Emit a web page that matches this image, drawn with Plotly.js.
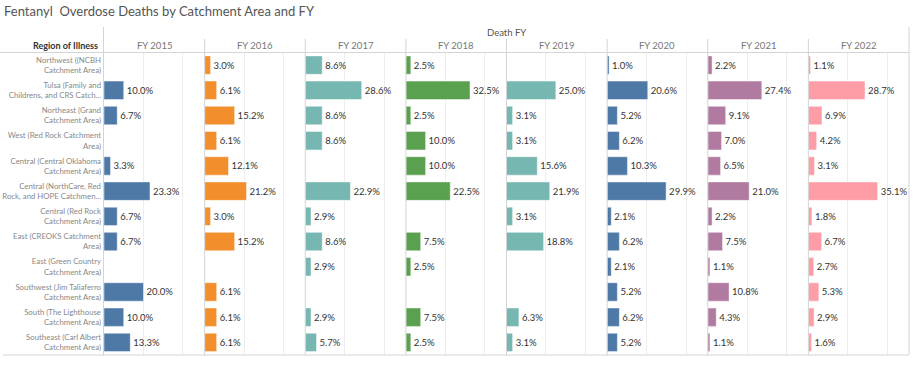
<!DOCTYPE html>
<html>
<head>
<meta charset="utf-8">
<script src="https://cdn.plot.ly/plotly-3.0.1.min.js"></script>
<style>html,body{margin:0;padding:0;background:#fff;}#chart{width:918px;height:375px;}</style>
</head>
<body>
<div id="chart"></div>
<script>
// ---- data ----
const regions = [
  "Northwest ((NCBH<br>Catchment Area)",
  "Tulsa (Family and<br>Childrens, and CRS Catch...",
  "Northeast (Grand<br>Catchment Area)",
  "West (Red Rock Catchment<br>Area)",
  "Central (Central Oklahoma<br>Catchment Area)",
  "Central (NorthCare, Red<br>Rock, and HOPE Catchmen...",
  "Central (Red Rock<br>Catchment Area)",
  "East (CREOKS Catchment<br>Area)",
  "East (Green Country<br>Catchment Area)",
  "Southwest (Jim Taliaferro<br>Catchment Area)",
  "South (The Lighthouse<br>Catchment Area)",
  "Southeast (Carl Albert<br>Catchment Area)"
];
const fiscalYears = ["FY 2015","FY 2016","FY 2017","FY 2018","FY 2019","FY 2020","FY 2021","FY 2022"];
const fy2015 = [null, 10.0, 6.7, null, 3.3, 23.3, 6.7, 6.7, null, 20.0, 10.0, 13.3];
const fy2016 = [3.0, 6.1, 15.2, 6.1, 12.1, 21.2, 3.0, 15.2, null, 6.1, 6.1, 6.1];
const fy2017 = [8.6, 28.6, 8.6, 8.6, null, 22.9, 2.9, 8.6, 2.9, null, 2.9, 5.7];
const fy2018 = [2.5, 32.5, 2.5, 10.0, 10.0, 22.5, null, 7.5, 2.5, null, 7.5, 2.5];
const fy2019 = [null, 25.0, 3.1, 3.1, 15.6, 21.9, 3.1, 18.8, null, null, 6.3, 3.1];
const fy2020 = [1.0, 20.6, 5.2, 6.2, 10.3, 29.9, 2.1, 6.2, 2.1, 5.2, 6.2, 5.2];
const fy2021 = [2.2, 27.4, 9.1, 7.0, 6.5, 21.0, 2.2, 7.5, 1.1, 10.8, 4.3, 1.1];
const fy2022 = [1.1, 28.7, 6.9, 4.2, 3.1, 35.1, 1.8, 6.7, 2.7, 5.3, 2.9, 1.6];
const seriesValues = [fy2015, fy2016, fy2017, fy2018, fy2019, fy2020, fy2021, fy2022];
const colors = ["#4e79a7","#f28e2b","#76b7b2","#59a14f","#76b7b2","#4e79a7","#b07aa1","#ff9da7"];

// ---- layout geometry (pixels) ----
const W = 918, H = 375;
const FONT = "Lato, sans-serif";
const panelLeft = 104, panelRight = 909, plotTop = 52.5, plotBottom = 355;
const panelW = (panelRight - panelLeft) / fiscalYears.length;
const fx = p => p / W;
const fy = p => 1 - p / H;

const traces = [];
const layout = {
  width: W, height: H,
  margin: {l: 0, r: 0, t: 0, b: 0, pad: 0},
  paper_bgcolor: "#fff", plot_bgcolor: "rgba(0,0,0,0)",
  showlegend: false,
  bargap: 0.27,
  font: {family: FONT, size: 9, color: "#444"},
  yaxis: {
    type: "category",
    domain: [fy(plotBottom), fy(plotTop)],
    range: [regions.length - 0.5, -0.5],
    showgrid: false, zeroline: false, showline: false,
    ticks: "", ticklabelstandoff: 2,
    tickfont: {family: FONT, size: 7.8, color: "#888"},
    fixedrange: true
  },
  annotations: [],
  shapes: []
};

fiscalYears.forEach((fyName, i) => {
  const ax = i === 0 ? "x" : "x" + (i + 1);
  const axKey = i === 0 ? "xaxis" : "xaxis" + (i + 1);
  const x0 = panelLeft + i * panelW, x1 = x0 + panelW;
  layout[axKey] = {
    domain: [fx(x0), fx(x1)],
    range: [0, 51],
    anchor: "y",
    showticklabels: false, ticks: "",
    showgrid: true, gridcolor: "#ededed", gridwidth: 1, dtick: 20, tick0: 0,
    zeroline: false, showline: false, fixedrange: true
  };
  const vals = seriesValues[i];
  traces.push({
    type: "bar", orientation: "h",
    x: vals, y: regions,
    xaxis: ax, yaxis: "y",
    marker: {color: colors[i], line: {color: "rgba(255,255,255,0.45)", width: 1}},
    text: vals.map(v => v == null ? "" : v.toFixed(1) + "%"),
    textposition: "outside",
    textfont: {family: FONT, size: 9.5, color: "#333"},
    cliponaxis: false,
    hoverinfo: "x+y"
  });
  layout.annotations.push({
    text: fyName, xref: "paper", yref: "paper",
    x: fx((x0 + x1) / 2), y: fy(45.5), xanchor: "center", yanchor: "middle",
    showarrow: false, font: {family: FONT, size: 9.5, color: "#777"}
  });
  if (i > 0) {
    layout.shapes.push({type: "line", xref: "paper", yref: "paper",
      x0: fx(x0), x1: fx(x0), y0: fy(39), y1: fy(plotBottom),
      line: {color: "#d4d4d4", width: 1}});
  }
});

// outer borders / header lines
layout.shapes.push(
  {type: "line", xref: "paper", yref: "paper", x0: fx(103.5), x1: fx(103.5), y0: fy(27), y1: fy(plotBottom), line: {color: "#d4d4d4", width: 1}},
  {type: "line", xref: "paper", yref: "paper", x0: fx(909), x1: fx(909), y0: fy(27), y1: fy(plotBottom), line: {color: "#d4d4d4", width: 1}},
  {type: "line", xref: "paper", yref: "paper", x0: 0, x1: fx(909), y0: fy(plotTop), y1: fy(plotTop), line: {color: "#d4d4d4", width: 1}},
  {type: "line", xref: "paper", yref: "paper", x0: fx(3), x1: fx(909), y0: fy(plotBottom), y1: fy(plotBottom), line: {color: "#d4d4d4", width: 1}}
);

layout.annotations.push(
  {text: "Fentanyl  Overdose Deaths by Catchment Area and FY", xref: "paper", yref: "paper",
   x: fx(2), y: fy(11), xanchor: "left", yanchor: "middle", showarrow: false,
   font: {family: FONT, size: 13, color: "#555"}},
  {text: "<b>Region of Illness</b>", xref: "paper", yref: "paper",
   x: fx(100), y: fy(45.5), xanchor: "right", yanchor: "middle", showarrow: false,
   font: {family: FONT, size: 9, color: "#333"}},
  {text: "Death FY", xref: "paper", yref: "paper",
   x: fx((panelLeft + panelRight) / 2), y: fy(33), xanchor: "center", yanchor: "middle", showarrow: false,
   font: {family: FONT, size: 9.5, color: "#555"}}
);

Plotly.newPlot("chart", traces, layout, {displayModeBar: false, responsive: false});
</script>
</body>
</html>
